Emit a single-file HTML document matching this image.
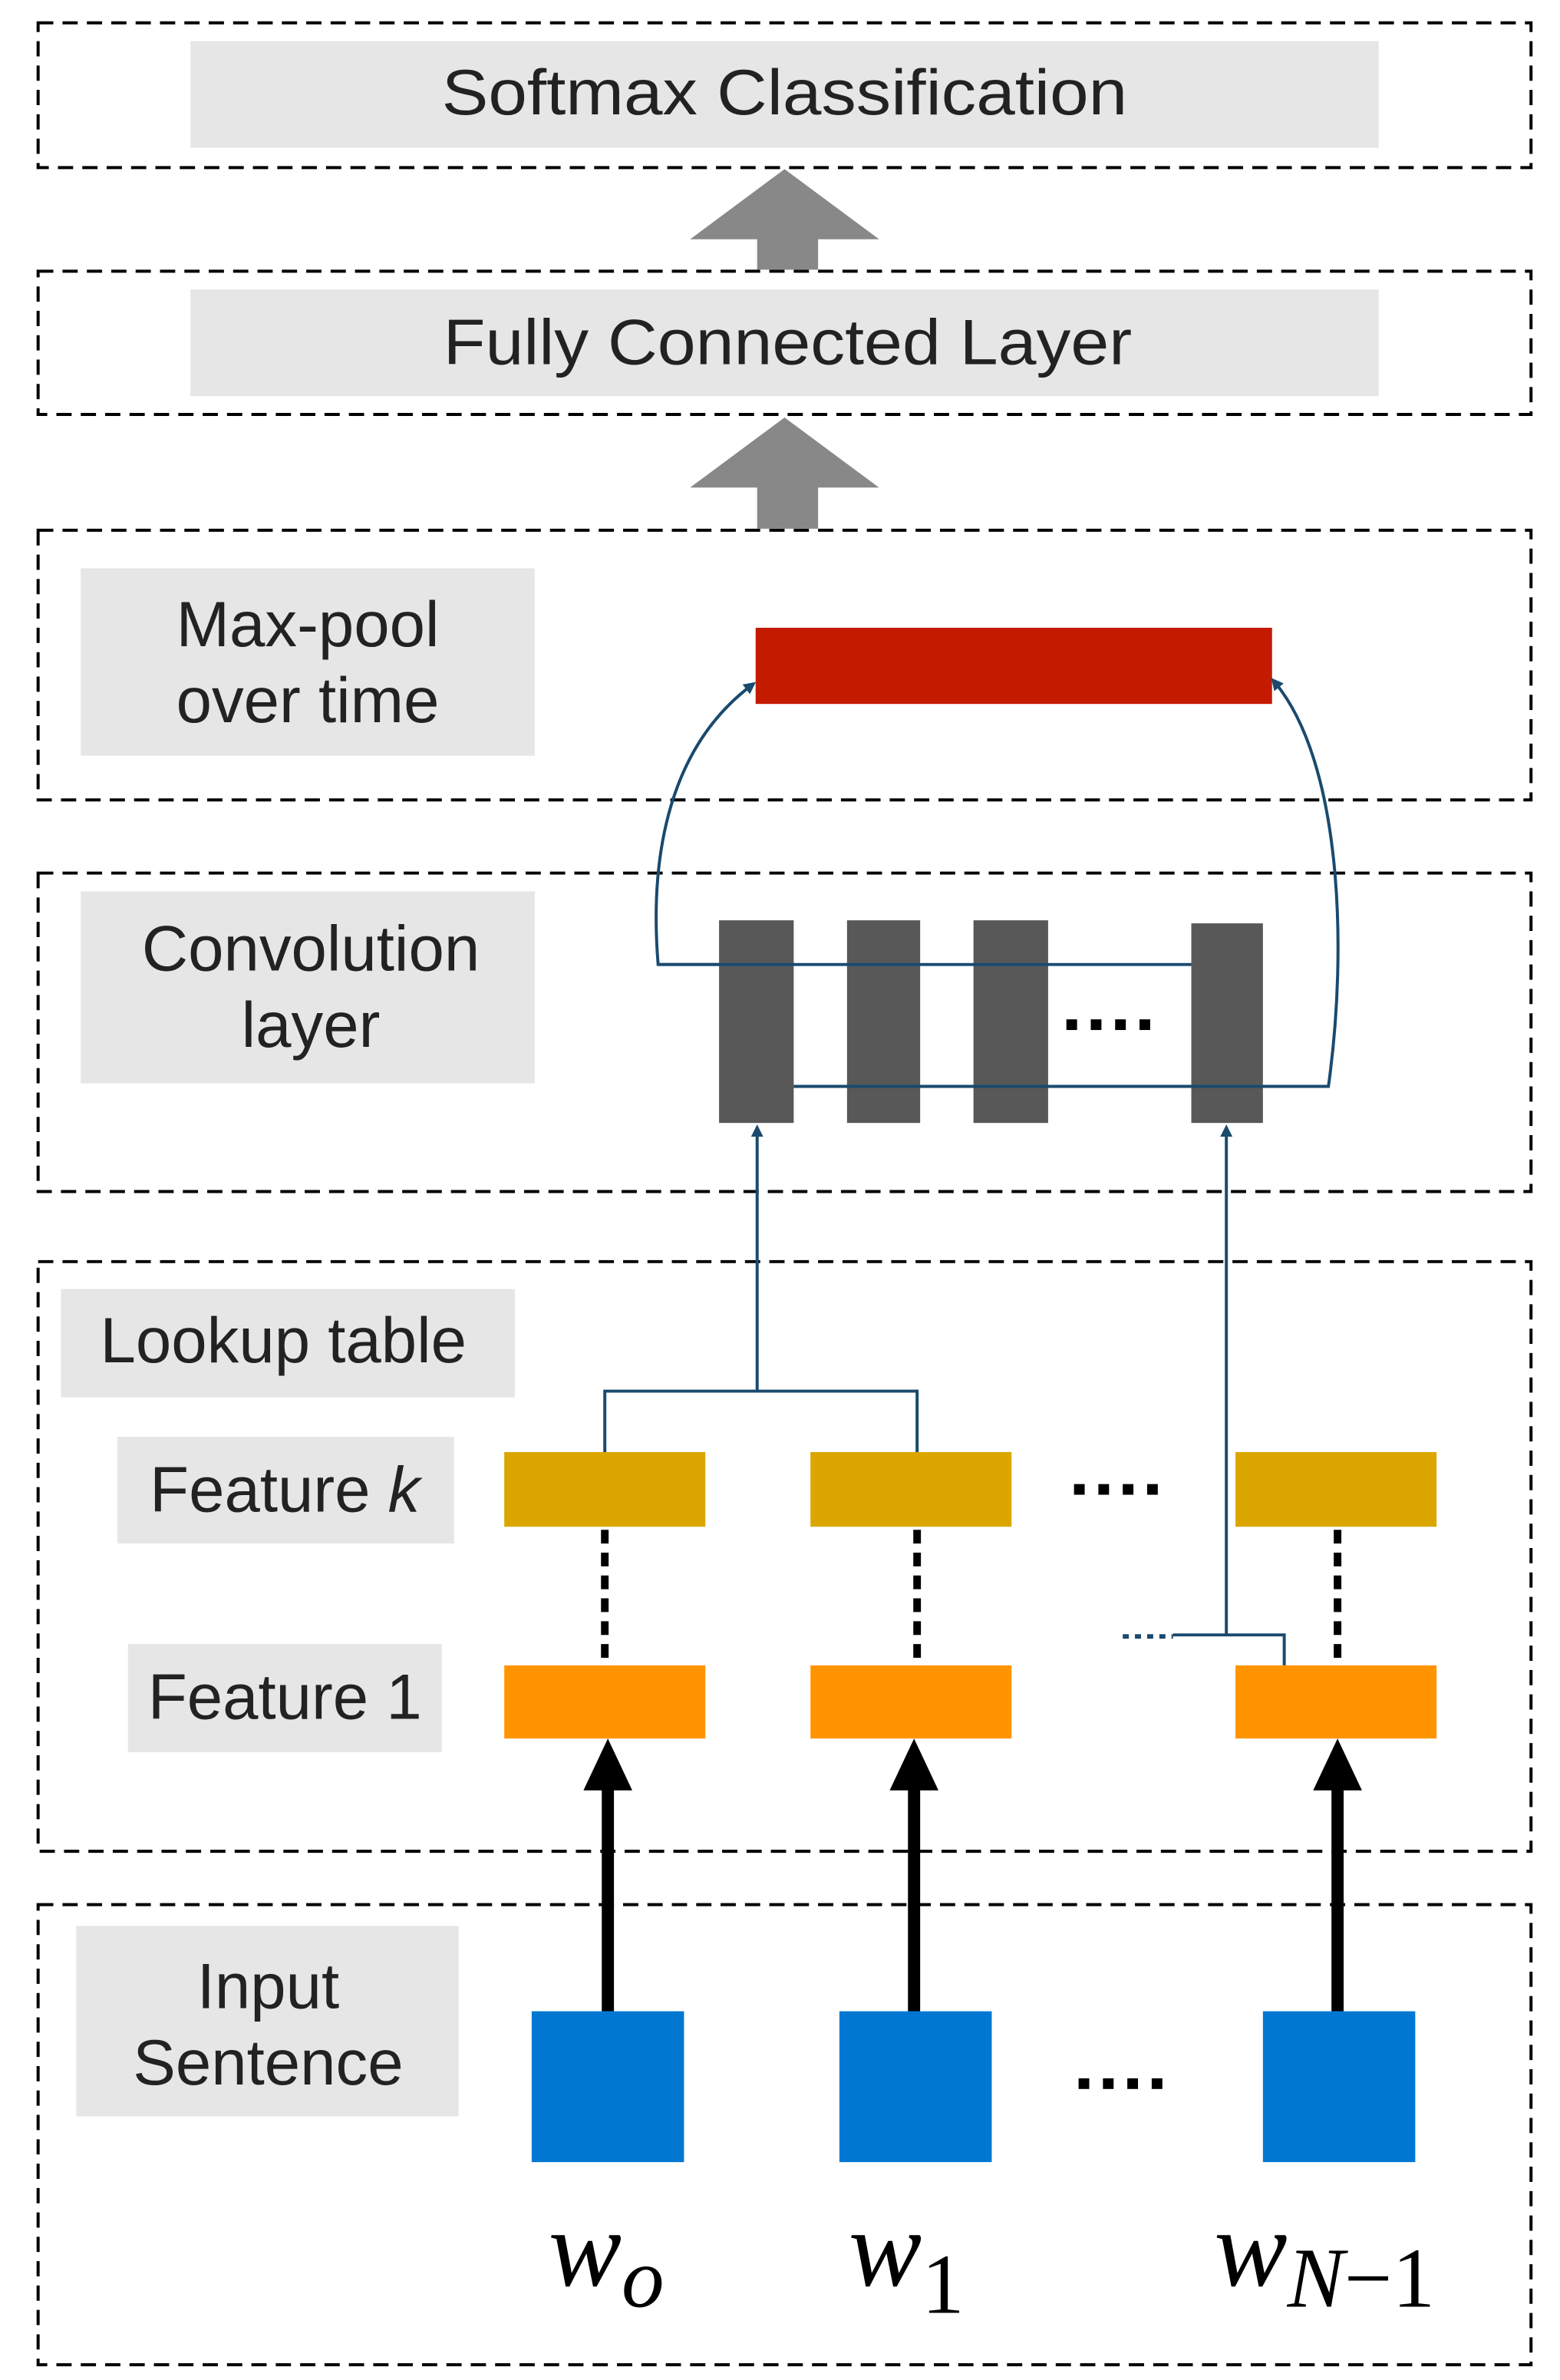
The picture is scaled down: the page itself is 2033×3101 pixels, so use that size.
<!DOCTYPE html>
<html><head><meta charset="utf-8"><style>html,body{margin:0;padding:0;background:#fff}svg{display:block}</style></head>
<body>
<svg width="2033" height="3101" viewBox="0 0 1024 1562" xmlns="http://www.w3.org/2000/svg" font-family="Liberation Sans, sans-serif">
<defs>
<marker id="ah" markerWidth="8" markerHeight="8" refX="4" refY="4" orient="auto" markerUnits="userSpaceOnUse"><path d="M0,0 L8,4 L0,8 z" fill="#1a4a6e"/></marker>
</defs>
<g fill="none" stroke="#000" stroke-width="2" stroke-dasharray="10,6">
<rect x="25" y="15" width="980" height="95"/>
<rect x="25" y="178" width="980" height="94"/>
<rect x="25" y="348" width="980" height="177"/>
<rect x="25" y="573" width="980" height="209"/>
<rect x="25" y="828" width="980" height="387"/>
<rect x="25" y="1250" width="980" height="302"/>
</g>
<g fill="#e6e6e6">
<rect x="125" y="27" width="780" height="70"/>
<rect x="125" y="190" width="780" height="70"/>
<rect x="53" y="373" width="298" height="123"/>
<rect x="53" y="585" width="298" height="126"/>
<rect x="40" y="846" width="298" height="71"/>
<rect x="77" y="943" width="221" height="70"/>
<rect x="84" y="1079" width="206" height="71"/>
<rect x="50" y="1264" width="251" height="125"/>
</g>
<g font-size="42" fill="#222" text-anchor="middle">
<text x="515" y="75" textLength="450" lengthAdjust="spacingAndGlyphs">Softmax Classification</text>
<text x="517" y="239" textLength="452" lengthAdjust="spacingAndGlyphs">Fully Connected Layer</text>
<text x="202" y="424">Max-pool</text>
<text x="202" y="474">over time</text>
<text x="204" y="637">Convolution</text>
<text x="204" y="687">layer</text>
<text x="186" y="894">Lookup table</text>
<text x="187" y="992">Feature <tspan font-style="italic">k</tspan></text>
<text x="187" y="1128">Feature 1</text>
<text x="176" y="1318">Input</text>
<text x="176" y="1368">Sentence</text>
</g>
<g fill="#888">
<path d="M497,177 V157 H453 L515,111 L577,157 H537 V177 z"/>
<path d="M497,347 V320 H453 L515,274 L577,320 H537 V347 z"/>
</g>
<rect x="496" y="412" width="339" height="50" fill="#c41a00"/>
<g fill="#585858">
<rect x="472" y="604" width="49" height="133"/>
<rect x="556" y="604" width="48" height="133"/>
<rect x="639" y="604" width="49" height="133"/>
<rect x="782" y="606" width="47" height="131"/>
</g>
<g stroke="#1a4a6e" stroke-width="2" fill="none">
<path d="M432,633 H782"/>
<path d="M521,713 H872"/>
<path d="M472,633 H432 C426,560 440,490 493,450" marker-end="url(#ah)"/>
<path d="M829,713 H872 C885,620 880,500 837,448" marker-end="url(#ah)"/>
<path d="M497,913 V742" marker-end="url(#ah)"/>
<path d="M397,953 V913 H602 V953"/>
<path d="M805,1073 V742" marker-end="url(#ah)"/>
<path d="M770,1073 H843 V1093"/>
<path d="M737,1074 H770" stroke-dasharray="4,4" stroke-width="3"/>
</g>
<g fill="#000">
<rect x="700" y="669" width="7" height="7"/><rect x="716" y="669" width="7" height="7"/><rect x="732" y="669" width="7" height="7"/><rect x="748" y="669" width="7" height="7"/>
<rect x="705" y="974" width="7" height="7"/><rect x="721" y="974" width="7" height="7"/><rect x="737" y="974" width="7" height="7"/><rect x="753" y="974" width="7" height="7"/>
<rect x="708" y="1364" width="7" height="7"/><rect x="724" y="1364" width="7" height="7"/><rect x="740" y="1364" width="7" height="7"/><rect x="756" y="1364" width="7" height="7"/>
</g>
<g fill="#dba600">
<rect x="331" y="953" width="132" height="49"/>
<rect x="532" y="953" width="132" height="49"/>
<rect x="811" y="953" width="132" height="49"/>
</g>
<g fill="#ff9400">
<rect x="331" y="1093" width="132" height="48"/>
<rect x="532" y="1093" width="132" height="48"/>
<rect x="811" y="1093" width="132" height="48"/>
</g>
<g stroke="#000" stroke-width="5" stroke-dasharray="9,6">
<path d="M397,1004 V1093"/><path d="M602,1004 V1093"/><path d="M878,1004 V1093"/>
</g>
<g stroke="#000" stroke-width="8">
<path d="M399,1320 V1170"/><path d="M600,1320 V1170"/><path d="M878,1320 V1170"/>
</g>
<g fill="#000">
<path d="M383,1175 L399,1141 L415,1175 z"/>
<path d="M584,1175 L600,1141 L616,1175 z"/>
<path d="M862,1175 L878,1141 L894,1175 z"/>
</g>
<g fill="#0078d2">
<rect x="349" y="1320" width="100" height="99"/>
<rect x="551" y="1320" width="100" height="99"/>
<rect x="829" y="1320" width="100" height="99"/>
</g>
<g font-family="Liberation Serif, serif" font-style="italic" fill="#000">
<text x="360" y="1500" font-size="72">w<tspan font-size="56" dy="14">o</tspan></text>
<text x="557" y="1500" font-size="72">w<tspan font-size="56" font-style="normal" dy="18">1</tspan></text>
<text x="797" y="1500" font-size="72">w<tspan font-size="56" dy="14">N</tspan><tspan font-size="56" font-style="normal">−1</tspan></text>
</g>
</svg>
</body></html>
